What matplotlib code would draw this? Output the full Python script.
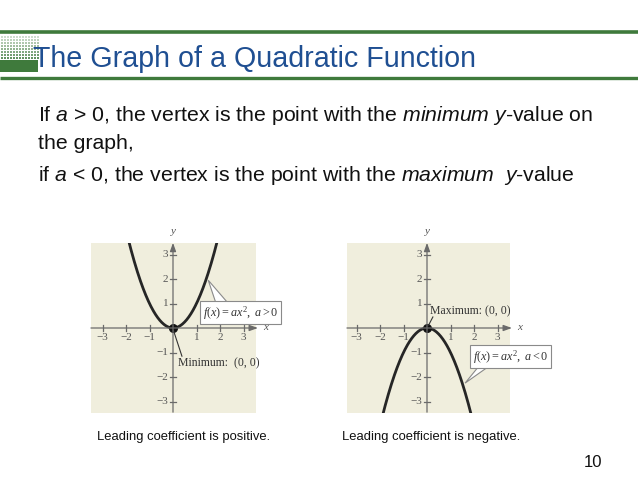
import numpy as np
import matplotlib
matplotlib.use("Agg")
from matplotlib import pyplot as plt
from matplotlib.patches import Rectangle, Polygon

plt.rcParams['mathtext.fontset'] = 'custom'
plt.rcParams['mathtext.rm'] = 'Liberation Serif'
plt.rcParams['mathtext.it'] = 'Liberation Serif:italic'
plt.rcParams['mathtext.sf'] = 'Liberation Sans:italic'

W, H = 638, 479

title = "The Graph of a Quadratic Function"
body_lines = [r"If $\mathsf{a}$ > 0, the vertex is the point with the $\mathsf{minimum}$ $\mathsf{y}$-value on",
              "the graph,",
              r"if $\mathsf{a}$ < 0, the vertex is the point with the $\mathsf{maximum}$  $\mathsf{y}$-value"]
page_no = "10"

# panel data
coefs = [1, -1]
tick_vals = [-3, -2, -1, 1, 2, 3]
tick_labels = ['\u22123', '\u22122', '\u22121', '1', '2', '3']
vertices = [(0, 0), (0, 0)]
func_labels = [r"$f(x) = ax^2,\ a > 0$", r"$f(x) = ax^2,\ a < 0$"]
vertex_labels = ["Minimum:  (0, 0)", "Maximum: (0, 0)"]
captions = ["Leading coefficient is positive.", "Leading coefficient is negative."]

GREEN = '#3f7a3c'
BLUE = '#1f4f92'
BEIGE = '#f0eedd'
AXC = '#6a6a6a'
SERIF = 'Liberation Serif'
SANS = 'Liberation Sans'

fig = plt.figure(figsize=(W / 100, H / 100), dpi=100)
bg = fig.add_axes([0, 0, 1, 1])
bg.set_xlim(0, W)
bg.set_ylim(H, 0)
bg.axis('off')

# header rules
bg.plot([0, W], [32, 32], color=GREEN, lw=2.6, solid_capstyle='butt')
bg.plot([0, W], [78, 78], color=GREEN, lw=2.4, solid_capstyle='butt')

# little logo block at the left of the title
bg.add_patch(Rectangle((0, 60), 38, 12, color=GREEN, lw=0))
for i, yy in enumerate(range(36, 60, 3)):
    alpha = 0.25 + 0.08 * i
    for xx in range(1, 38, 3):
        bg.add_patch(Rectangle((xx, yy), 2, 2, color=GREEN, alpha=alpha, lw=0))

bg.text(33, 67, title, fontsize=20.6, family=SANS, color=BLUE, va='baseline', ha='left')

for yy, line in zip([121, 149, 181], body_lines):
    bg.text(38, yy, line, fontsize=15.3, family=SANS, color='#111111', va='baseline', ha='left')

bg.text(602, 467, page_no, fontsize=12, family=SANS, color='#111111', va='baseline', ha='right')

# panel layout in pixels: beige box, origin, unit size
panels = [
    dict(box=(91, 243, 256, 413), origin=(173, 328),
         flab_xy=(1.27, 0.62), wedge=[(1.85, 0.95), (2.4, 0.95), (1.5, 1.95)],
         vlab_xy=(0.22, -1.45), vline=[(0.02, -0.1), (0.38, -1.15)], cap_x=184),
    dict(box=(347, 243, 510, 413), origin=(427, 328),
         flab_xy=(1.95, -1.18), wedge=[(2.3, -1.45), (2.8, -1.45), (1.62, -2.25)],
         vlab_xy=(0.13, 0.7), vline=[(0.07, 0.12), (0.25, 0.45)], cap_x=431),
]
UX, UY = 23.5, 24.5

for p, a, flab, vlab, cap, vtx in zip(panels, coefs, func_labels, vertex_labels, captions, vertices):
    x0, y0, x1, y1 = p['box']
    ox, oy = p['origin']
    ax = fig.add_axes([x0 / W, 1 - y1 / H, (x1 - x0) / W, (y1 - y0) / H])
    ax.set_facecolor(BEIGE)
    xmin, xmax = (x0 - ox) / UX, (x1 - ox) / UX
    ymin, ymax = (oy - y1) / UY, (oy - y0) / UY
    ax.set_xlim(xmin, xmax)
    ax.set_ylim(ymin, ymax)
    for s in ax.spines.values():
        s.set_visible(False)
    ax.set_xticks([])
    ax.set_yticks([])

    # axes with arrows
    ax.annotate('', xy=(xmax + 0.2, 0), xytext=(xmin - 0.12, 0), annotation_clip=False,
                arrowprops=dict(arrowstyle='-|>,head_length=0.5,head_width=0.18', color=AXC, lw=0.9))
    ax.annotate('', xy=(0, ymax + 0.12), xytext=(0, ymin - 0.08), annotation_clip=False,
                arrowprops=dict(arrowstyle='-|>,head_length=0.5,head_width=0.18', color=AXC, lw=0.9))
    ax.text(xmax + 0.42, 0, 'x', style='italic', family=SERIF, fontsize=8, color='#555555',
            ha='center', va='center', clip_on=False)
    ax.text(0, ymax + 0.45, 'y', style='italic', family=SERIF, fontsize=8, color='#555555',
            ha='center', va='center', clip_on=False)

    for t, lab in zip(tick_vals, tick_labels):
        ax.plot([t, t], [-0.13, 0.13], color=AXC, lw=0.9)
        ax.plot([-0.13, 0.13], [t, t], color=AXC, lw=0.9)
        ax.text(t, -0.22, lab, family=SERIF, fontsize=8, color='#555555', ha='center', va='top')
        ax.text(-0.2, t, lab, family=SERIF, fontsize=8, color='#555555', ha='right', va='center')

    xs = np.linspace(-2.2, 2.2, 200)
    ax.plot(xs, a * xs ** 2, color='#262626', lw=2.0)
    ax.plot(*vtx, 'o', color='#111111', ms=5.5)

    # callout wedge + label box
    ax.add_patch(Polygon(p['wedge'], closed=True, fc='white', ec='#8a8a8a', lw=0.8,
                         clip_on=False, zorder=4))
    ax.text(*p['flab_xy'], flab, fontsize=8.7, color='#333333', ha='left', va='center', zorder=5,
            clip_on=False,
            bbox=dict(boxstyle='square,pad=0.22', fc='white', ec='#8a8a8a', lw=0.8))

    (lx0, ly0), (lx1, ly1) = p['vline']
    ax.plot([lx0, lx1], [ly0, ly1], color='#333333', lw=0.8)
    ax.text(*p['vlab_xy'], vlab, family=SERIF, fontsize=8.5, color='#333333',
            ha='left', va='center')

    bg.text(p['cap_x'], 440, cap, family=SANS, fontsize=9.4, color='#111111',
            ha='center', va='baseline')

fig.savefig('out.png', dpi=100)
